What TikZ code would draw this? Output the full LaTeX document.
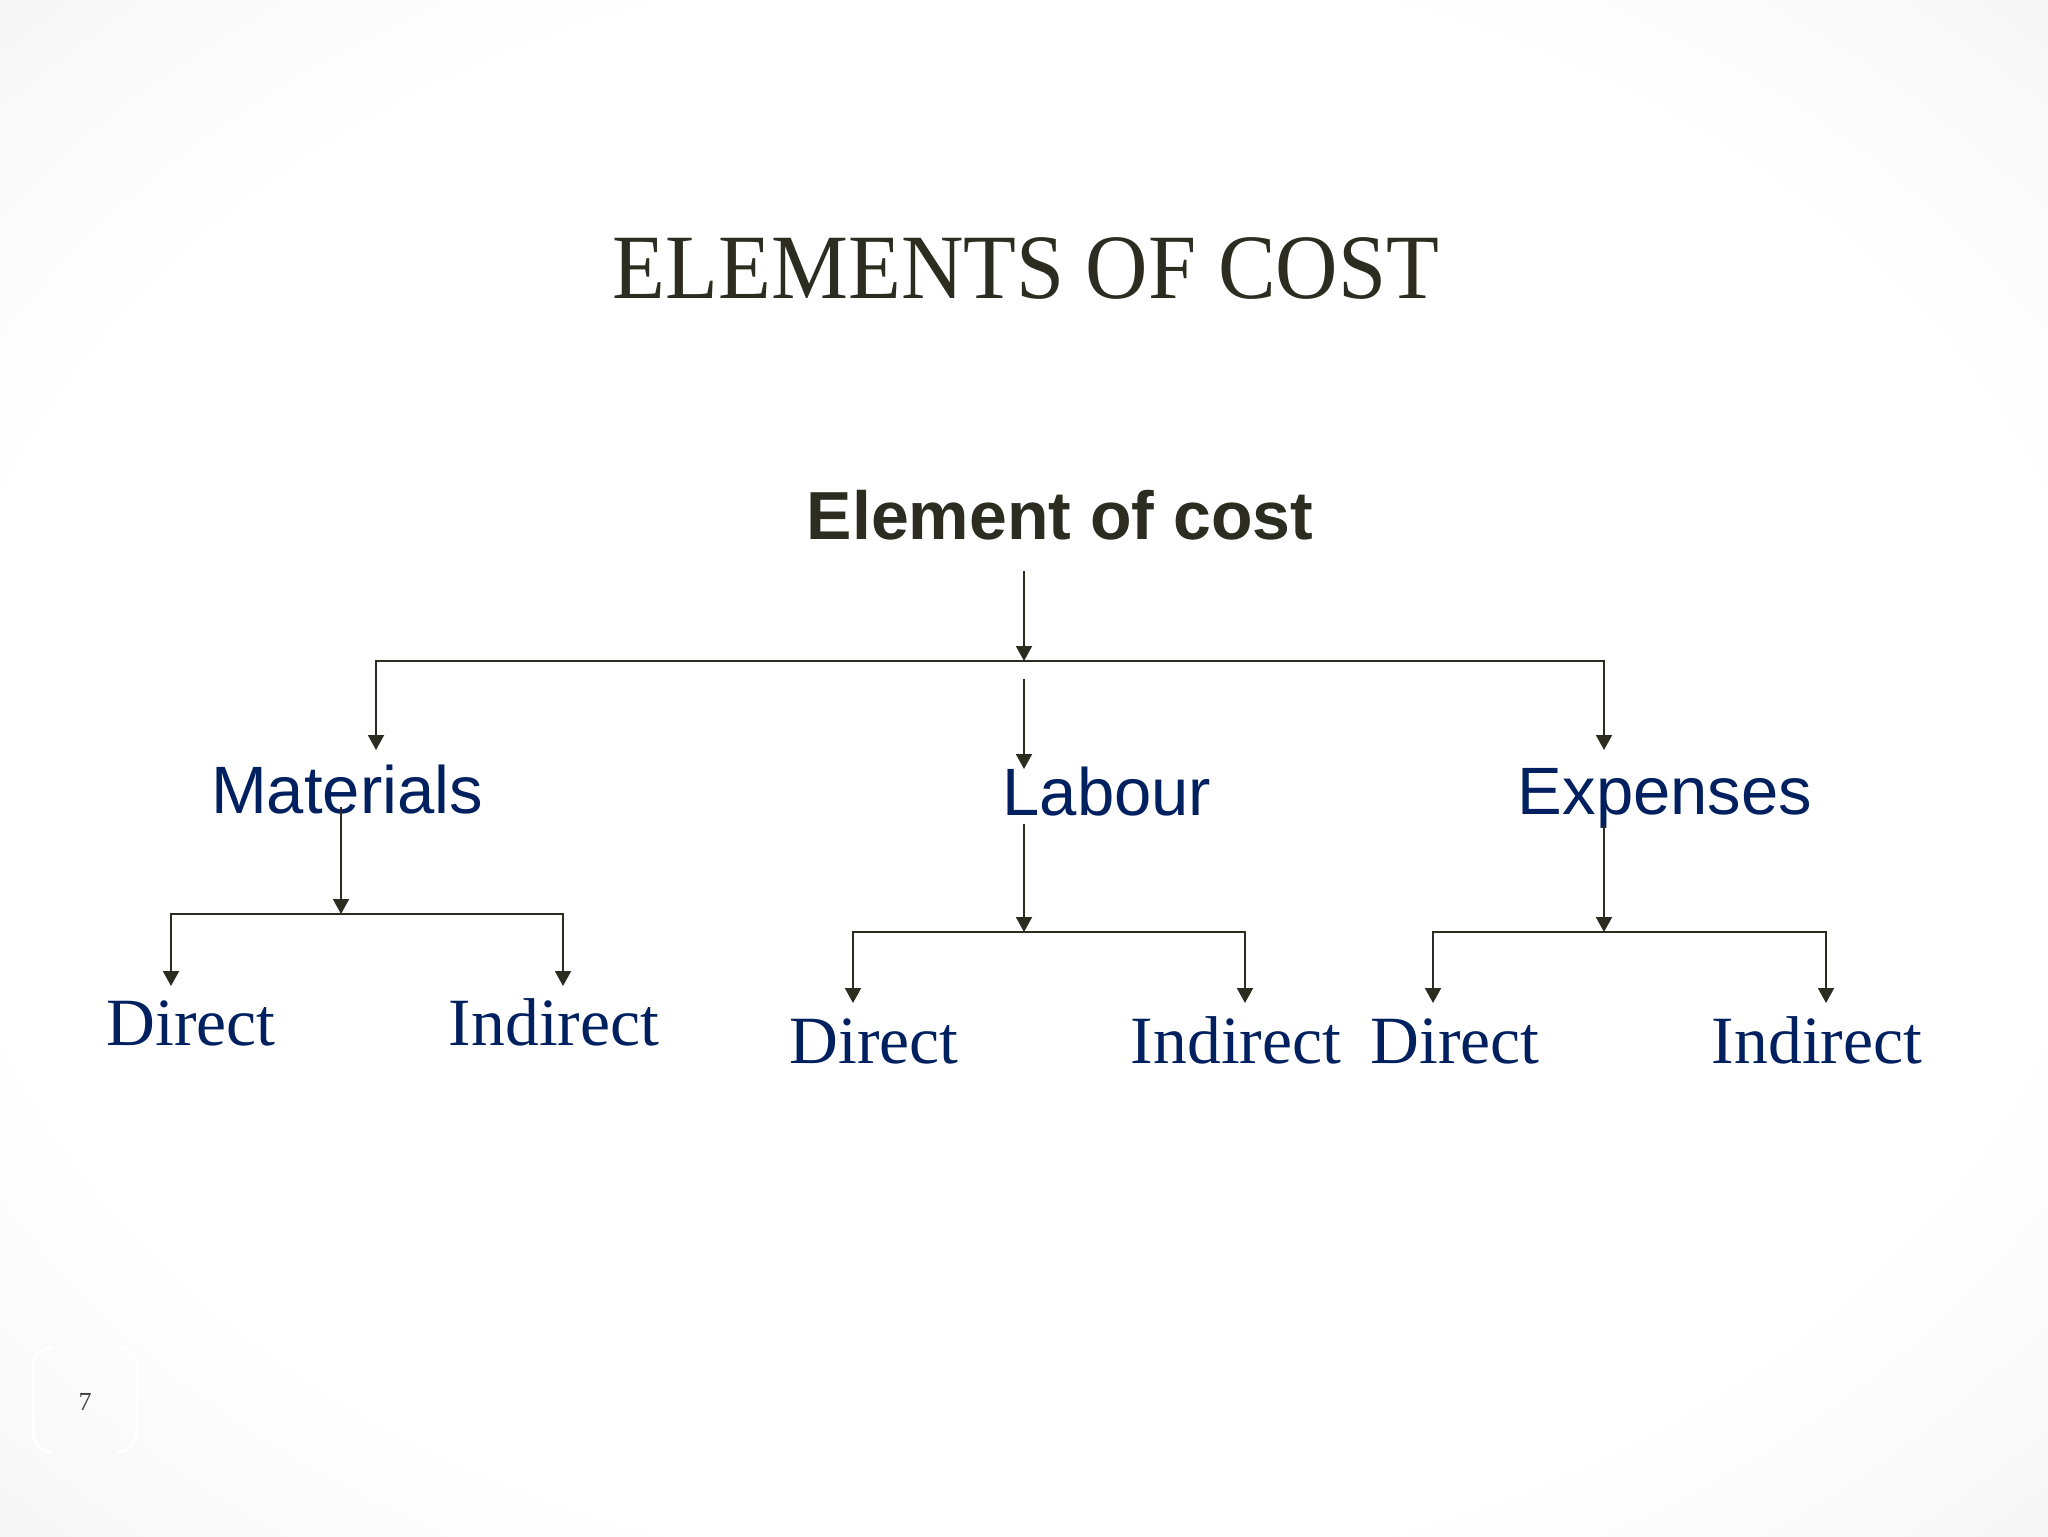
\documentclass[tikz,border=0pt]{standalone}
\usepackage{fontspec}
\setmainfont{Liberation Serif}
\newfontfamily\sansfont{Liberation Sans}
\newfontfamily\titlefont[FakeStretch=0.94]{Liberation Serif}
\usetikzlibrary{arrows.meta}
\definecolor{navy}{RGB}{0,32,96}
\definecolor{ink}{RGB}{45,44,32}
\pgfdeclareradialshading{vignette}{\pgfpoint{0bp}{0bp}}{color(0bp)=(white); color(26bp)=(white); color(48bp)=(black!8); color(72bp)=(black!17)}
\begin{document}
\begin{tikzpicture}[x=0.5pt,y=-0.5pt,
  link/.style={draw=ink, line width=1pt, -{Triangle[width=8pt,length=7.5pt]}},
  head/.style={anchor=base, inner sep=0pt, text=navy, font=\sansfont\fontsize{33.5}{40}\selectfont},
  leaf/.style={anchor=base, inner sep=0pt, text=navy, font=\fontsize{33.8}{40}\selectfont}]
\useasboundingbox (0,0) rectangle (2048,1536);
\shade[shading=vignette] (0,0) rectangle (2048,1536);
% titles
\node [anchor=base, inner sep=0pt, text=ink, font=\titlefont\fontsize{46}{55}\selectfont] (title) at (1026,298) {ELEMENTS OF COST};
\node [anchor=base, inner sep=0pt, text=ink, font=\sansfont\bfseries\fontsize{34}{40}\selectfont] (element) at (1060,539) {Element of cost};
% second level
\node [head] (materials) at (347,813) {Materials};
\node [head] (labour) at (1107,815) {Labour};
\node [head] (expenses) at (1665,814) {Expenses};
% third level
\node [leaf] (mdirect) at (191,1045) {Direct};
\node [leaf] (mindirect) at (554,1045) {Indirect};
\node [leaf] (ldirect) at (874,1063) {Direct};
\node [leaf] (lindirect) at (1236,1063) {Indirect};
\node [leaf] (edirect) at (1455,1063) {Direct};
\node [leaf] (eindirect) at (1817,1063) {Indirect};
% connector points
\coordinate (elemout) at (1024,571);
\coordinate (topj) at (1024,661);
\coordinate (matin) at (376,750);
\coordinate (labfrom) at (1024,679);
\coordinate (labin) at (1024,769);
\coordinate (expin) at (1604,750);
\coordinate (matout) at (341,807);
\coordinate (mj) at (341,914);
\coordinate (mdin) at (171,986);
\coordinate (miin) at (563,986);
\coordinate (labout) at (1024,824);
\coordinate (lj) at (1024,932);
\coordinate (ldin) at (853,1003);
\coordinate (liin) at (1245,1003);
\coordinate (expout) at (1604,825);
\coordinate (ej) at (1604,932);
\coordinate (edin) at (1433,1003);
\coordinate (eiin) at (1826,1003);
% connectors
\draw [link] (elemout) -- (topj);
\draw [link] (topj) -| (matin);
\draw [link] (topj) -| (expin);
\draw [link] (labfrom) -- (labin);
\draw [link] (matout) -- (mj);
\draw [link] (mj) -| (mdin);
\draw [link] (mj) -| (miin);
\draw [link] (labout) -- (lj);
\draw [link] (lj) -| (ldin);
\draw [link] (lj) -| (liin);
\draw [link] (expout) -- (ej);
\draw [link] (ej) -| (edin);
\draw [link] (ej) -| (eiin);
% page number
\draw [white, line width=1.5pt, rounded corners=10pt] (52,1347) -| (33,1452) -- (52,1452);
\draw [white, line width=1.5pt, rounded corners=10pt] (117,1452) -| (137,1347) -- (117,1347);
\node [anchor=base, inner sep=0pt, text=black!75, font=\fontsize{13}{15}\selectfont] (pagenum) at (85,1410) {7};
\end{tikzpicture}
\end{document}
